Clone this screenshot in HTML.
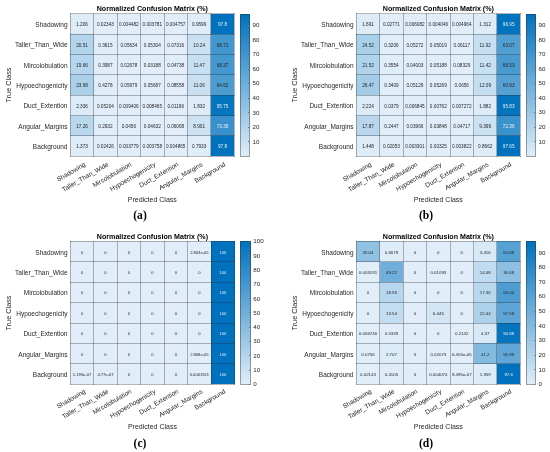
<!DOCTYPE html>
<html><head><meta charset="utf-8"><style>
html,body{margin:0;padding:0;background:#fff;}
body{width:550px;height:452px;position:relative;overflow:hidden;will-change:transform;font-family:"Liberation Sans",sans-serif;color:#262626;}
.a{position:absolute;white-space:nowrap;}
.cell{position:absolute;box-sizing:border-box;text-align:center;font-size:4.9px;}
.rl{position:absolute;width:80px;text-align:right;font-size:6.5px;line-height:8px;}
.cl{position:absolute;width:80px;text-align:right;font-size:6.5px;line-height:8px;transform-origin:100% 50%;transform:rotate(-30deg);}
.tt{position:absolute;font-weight:bold;font-size:7.1px;line-height:8px;text-align:center;width:160px;color:#000;}
.xl{position:absolute;font-size:7px;line-height:8px;text-align:center;width:100px;}
.yl{position:absolute;font-size:7.3px;line-height:8px;text-align:center;width:60px;transform:rotate(-90deg);}
.lt{position:absolute;font-family:"Liberation Serif",serif;font-weight:bold;font-size:11.6px;line-height:12px;width:40px;text-align:center;color:#000;}
.tk{position:absolute;font-size:6.2px;line-height:6px;}
</style></head><body>

<div class="cell" style="left:70.30px;top:13.90px;width:23.43px;height:20.33px;line-height:18.03px;padding-top:2.3px;font-size:4.70px;background:rgb(222,236,248);color:#262626">1.206</div>
<div class="cell" style="left:93.73px;top:13.90px;width:23.43px;height:20.33px;line-height:18.03px;padding-top:2.3px;font-size:4.70px;background:rgb(225,238,249);color:#262626">0.02343</div>
<div class="cell" style="left:117.16px;top:13.90px;width:23.43px;height:20.33px;line-height:18.03px;padding-top:2.3px;font-size:4.70px;background:rgb(225,238,249);color:#262626">0.004482</div>
<div class="cell" style="left:140.59px;top:13.90px;width:23.43px;height:20.33px;line-height:18.03px;padding-top:2.3px;font-size:4.70px;background:rgb(225,238,249);color:#262626">0.003781</div>
<div class="cell" style="left:164.01px;top:13.90px;width:23.43px;height:20.33px;line-height:18.03px;padding-top:2.3px;font-size:4.70px;background:rgb(225,238,249);color:#262626">0.004757</div>
<div class="cell" style="left:187.44px;top:13.90px;width:23.43px;height:20.33px;line-height:18.03px;padding-top:2.3px;font-size:4.70px;background:rgb(223,237,248);color:#262626">0.9599</div>
<div class="cell" style="left:210.87px;top:13.90px;width:23.43px;height:20.33px;line-height:18.03px;padding-top:2.3px;font-size:4.70px;background:rgb(0,114,189);color:rgba(255,255,255,0.88)">97.8</div>
<div class="cell" style="left:70.30px;top:34.23px;width:23.43px;height:20.33px;line-height:18.03px;padding-top:2.3px;font-size:4.70px;background:rgb(178,212,236);color:#262626">20.51</div>
<div class="cell" style="left:93.73px;top:34.23px;width:23.43px;height:20.33px;line-height:18.03px;padding-top:2.3px;font-size:4.70px;background:rgb(224,238,249);color:#262626">0.3615</div>
<div class="cell" style="left:117.16px;top:34.23px;width:23.43px;height:20.33px;line-height:18.03px;padding-top:2.3px;font-size:4.70px;background:rgb(225,238,249);color:#262626">0.05634</div>
<div class="cell" style="left:140.59px;top:34.23px;width:23.43px;height:20.33px;line-height:18.03px;padding-top:2.3px;font-size:4.70px;background:rgb(225,238,249);color:#262626">0.05304</div>
<div class="cell" style="left:164.01px;top:34.23px;width:23.43px;height:20.33px;line-height:18.03px;padding-top:2.3px;font-size:4.70px;background:rgb(225,238,249);color:#262626">0.07316</div>
<div class="cell" style="left:187.44px;top:34.23px;width:23.43px;height:20.33px;line-height:18.03px;padding-top:2.3px;font-size:4.70px;background:rgb(201,225,243);color:#262626">10.24</div>
<div class="cell" style="left:210.87px;top:34.23px;width:23.43px;height:20.33px;line-height:18.03px;padding-top:2.3px;font-size:4.70px;background:rgb(67,151,207);color:#262626">68.71</div>
<div class="cell" style="left:70.30px;top:54.56px;width:23.43px;height:20.33px;line-height:18.03px;padding-top:2.3px;font-size:4.70px;background:rgb(180,213,237);color:#262626">19.66</div>
<div class="cell" style="left:93.73px;top:54.56px;width:23.43px;height:20.33px;line-height:18.03px;padding-top:2.3px;font-size:4.70px;background:rgb(224,237,249);color:#262626">0.3987</div>
<div class="cell" style="left:117.16px;top:54.56px;width:23.43px;height:20.33px;line-height:18.03px;padding-top:2.3px;font-size:4.70px;background:rgb(225,238,249);color:#262626">0.02678</div>
<div class="cell" style="left:140.59px;top:54.56px;width:23.43px;height:20.33px;line-height:18.03px;padding-top:2.3px;font-size:4.70px;background:rgb(225,238,249);color:#262626">0.03188</div>
<div class="cell" style="left:164.01px;top:54.56px;width:23.43px;height:20.33px;line-height:18.03px;padding-top:2.3px;font-size:4.70px;background:rgb(225,238,249);color:#262626">0.04738</div>
<div class="cell" style="left:187.44px;top:54.56px;width:23.43px;height:20.33px;line-height:18.03px;padding-top:2.3px;font-size:4.70px;background:rgb(199,223,242);color:#262626">11.47</div>
<div class="cell" style="left:210.87px;top:54.56px;width:23.43px;height:20.33px;line-height:18.03px;padding-top:2.3px;font-size:4.70px;background:rgb(68,151,207);color:#262626">68.37</div>
<div class="cell" style="left:70.30px;top:74.89px;width:23.43px;height:20.33px;line-height:18.03px;padding-top:2.3px;font-size:4.70px;background:rgb(171,208,234);color:#262626">23.68</div>
<div class="cell" style="left:93.73px;top:74.89px;width:23.43px;height:20.33px;line-height:18.03px;padding-top:2.3px;font-size:4.70px;background:rgb(224,237,249);color:#262626">0.4278</div>
<div class="cell" style="left:117.16px;top:74.89px;width:23.43px;height:20.33px;line-height:18.03px;padding-top:2.3px;font-size:4.70px;background:rgb(225,238,249);color:#262626">0.05979</div>
<div class="cell" style="left:140.59px;top:74.89px;width:23.43px;height:20.33px;line-height:18.03px;padding-top:2.3px;font-size:4.70px;background:rgb(225,238,249);color:#262626">0.05687</div>
<div class="cell" style="left:164.01px;top:74.89px;width:23.43px;height:20.33px;line-height:18.03px;padding-top:2.3px;font-size:4.70px;background:rgb(225,238,249);color:#262626">0.08558</div>
<div class="cell" style="left:187.44px;top:74.89px;width:23.43px;height:20.33px;line-height:18.03px;padding-top:2.3px;font-size:4.70px;background:rgb(200,224,242);color:#262626">11.06</div>
<div class="cell" style="left:210.87px;top:74.89px;width:23.43px;height:20.33px;line-height:18.03px;padding-top:2.3px;font-size:4.70px;background:rgb(76,156,209);color:#262626">64.62</div>
<div class="cell" style="left:70.30px;top:95.21px;width:23.43px;height:20.33px;line-height:18.03px;padding-top:2.3px;font-size:4.70px;background:rgb(220,235,248);color:#262626">2.336</div>
<div class="cell" style="left:93.73px;top:95.21px;width:23.43px;height:20.33px;line-height:18.03px;padding-top:2.3px;font-size:4.70px;background:rgb(225,238,249);color:#262626">0.05204</div>
<div class="cell" style="left:117.16px;top:95.21px;width:23.43px;height:20.33px;line-height:18.03px;padding-top:2.3px;font-size:4.70px;background:rgb(225,238,249);color:#262626">0.009406</div>
<div class="cell" style="left:140.59px;top:95.21px;width:23.43px;height:20.33px;line-height:18.03px;padding-top:2.3px;font-size:4.70px;background:rgb(225,238,249);color:#262626">0.008465</div>
<div class="cell" style="left:164.01px;top:95.21px;width:23.43px;height:20.33px;line-height:18.03px;padding-top:2.3px;font-size:4.70px;background:rgb(225,238,249);color:#262626">0.01196</div>
<div class="cell" style="left:187.44px;top:95.21px;width:23.43px;height:20.33px;line-height:18.03px;padding-top:2.3px;font-size:4.70px;background:rgb(221,236,248);color:#262626">1.832</div>
<div class="cell" style="left:210.87px;top:95.21px;width:23.43px;height:20.33px;line-height:18.03px;padding-top:2.3px;font-size:4.70px;background:rgb(5,117,190);color:rgba(255,255,255,0.88)">95.75</div>
<div class="cell" style="left:70.30px;top:115.54px;width:23.43px;height:20.33px;line-height:18.03px;padding-top:2.3px;font-size:4.70px;background:rgb(185,216,238);color:#262626">17.26</div>
<div class="cell" style="left:93.73px;top:115.54px;width:23.43px;height:20.33px;line-height:18.03px;padding-top:2.3px;font-size:4.70px;background:rgb(224,238,249);color:#262626">0.2932</div>
<div class="cell" style="left:117.16px;top:115.54px;width:23.43px;height:20.33px;line-height:18.03px;padding-top:2.3px;font-size:4.70px;background:rgb(225,238,249);color:#262626">0.0456</div>
<div class="cell" style="left:140.59px;top:115.54px;width:23.43px;height:20.33px;line-height:18.03px;padding-top:2.3px;font-size:4.70px;background:rgb(225,238,249);color:#262626">0.04632</div>
<div class="cell" style="left:164.01px;top:115.54px;width:23.43px;height:20.33px;line-height:18.03px;padding-top:2.3px;font-size:4.70px;background:rgb(225,238,249);color:#262626">0.06068</div>
<div class="cell" style="left:187.44px;top:115.54px;width:23.43px;height:20.33px;line-height:18.03px;padding-top:2.3px;font-size:4.70px;background:rgb(205,227,244);color:#262626">8.901</div>
<div class="cell" style="left:210.87px;top:115.54px;width:23.43px;height:20.33px;line-height:18.03px;padding-top:2.3px;font-size:4.70px;background:rgb(56,145,204);color:rgba(255,255,255,0.88)">73.39</div>
<div class="cell" style="left:70.30px;top:135.87px;width:23.43px;height:20.33px;line-height:18.03px;padding-top:2.3px;font-size:4.70px;background:rgb(222,236,248);color:#262626">1.373</div>
<div class="cell" style="left:93.73px;top:135.87px;width:23.43px;height:20.33px;line-height:18.03px;padding-top:2.3px;font-size:4.70px;background:rgb(225,238,249);color:#262626">0.02426</div>
<div class="cell" style="left:117.16px;top:135.87px;width:23.43px;height:20.33px;line-height:18.03px;padding-top:2.3px;font-size:4.70px;background:rgb(225,238,249);color:#262626">0.003779</div>
<div class="cell" style="left:140.59px;top:135.87px;width:23.43px;height:20.33px;line-height:18.03px;padding-top:2.3px;font-size:4.70px;background:rgb(225,238,249);color:#262626">0.003758</div>
<div class="cell" style="left:164.01px;top:135.87px;width:23.43px;height:20.33px;line-height:18.03px;padding-top:2.3px;font-size:4.70px;background:rgb(225,238,249);color:#262626">0.004865</div>
<div class="cell" style="left:187.44px;top:135.87px;width:23.43px;height:20.33px;line-height:18.03px;padding-top:2.3px;font-size:4.70px;background:rgb(223,237,249);color:#262626">0.7933</div>
<div class="cell" style="left:210.87px;top:135.87px;width:23.43px;height:20.33px;line-height:18.03px;padding-top:2.3px;font-size:4.70px;background:rgb(0,114,189);color:rgba(255,255,255,0.88)">97.8</div>
<div class="a" style="left:69.80px;top:13.40px;width:1px;height:143.30px;background:rgba(40,40,40,0.34)"></div>
<div class="a" style="left:93.23px;top:13.40px;width:1px;height:143.30px;background:rgba(40,40,40,0.34)"></div>
<div class="a" style="left:116.66px;top:13.40px;width:1px;height:143.30px;background:rgba(40,40,40,0.34)"></div>
<div class="a" style="left:140.09px;top:13.40px;width:1px;height:143.30px;background:rgba(40,40,40,0.34)"></div>
<div class="a" style="left:163.51px;top:13.40px;width:1px;height:143.30px;background:rgba(40,40,40,0.34)"></div>
<div class="a" style="left:186.94px;top:13.40px;width:1px;height:143.30px;background:rgba(40,40,40,0.34)"></div>
<div class="a" style="left:210.37px;top:13.40px;width:1px;height:143.30px;background:rgba(40,40,40,0.34)"></div>
<div class="a" style="left:233.80px;top:13.40px;width:1px;height:143.30px;background:rgba(40,40,40,0.34)"></div>
<div class="a" style="left:69.80px;top:13.40px;width:165.00px;height:1px;background:rgba(40,40,40,0.34)"></div>
<div class="a" style="left:69.80px;top:33.73px;width:165.00px;height:1px;background:rgba(40,40,40,0.34)"></div>
<div class="a" style="left:69.80px;top:54.06px;width:165.00px;height:1px;background:rgba(40,40,40,0.34)"></div>
<div class="a" style="left:69.80px;top:74.39px;width:165.00px;height:1px;background:rgba(40,40,40,0.34)"></div>
<div class="a" style="left:69.80px;top:94.71px;width:165.00px;height:1px;background:rgba(40,40,40,0.34)"></div>
<div class="a" style="left:69.80px;top:115.04px;width:165.00px;height:1px;background:rgba(40,40,40,0.34)"></div>
<div class="a" style="left:69.80px;top:135.37px;width:165.00px;height:1px;background:rgba(40,40,40,0.34)"></div>
<div class="a" style="left:69.80px;top:155.70px;width:165.00px;height:1px;background:rgba(40,40,40,0.34)"></div>
<div class="rl" style="left:-12.50px;top:21.06px">Shadowing</div>
<div class="rl" style="left:-12.50px;top:41.39px">Taller_Than_Wide</div>
<div class="rl" style="left:-12.50px;top:61.72px">Mircolobulation</div>
<div class="rl" style="left:-12.50px;top:82.05px">Hypoechogenicity</div>
<div class="rl" style="left:-12.50px;top:102.38px">Duct_Extention</div>
<div class="rl" style="left:-12.50px;top:122.71px">Angular_Margins</div>
<div class="rl" style="left:-12.50px;top:143.04px">Background</div>
<div class="cl" style="left:4.51px;top:159.70px">Shadowing</div>
<div class="cl" style="left:27.94px;top:159.70px">Taller_Than_Wide</div>
<div class="cl" style="left:51.37px;top:159.70px">Mircolobulation</div>
<div class="cl" style="left:74.80px;top:159.70px">Hypoechogenicity</div>
<div class="cl" style="left:98.23px;top:159.70px">Duct_Extention</div>
<div class="cl" style="left:121.66px;top:159.70px">Angular_Margins</div>
<div class="cl" style="left:145.09px;top:159.70px">Background</div>
<div class="tt" style="left:72.30px;top:5.00px">Normalized Confusion Matrix (%)</div>
<div class="xl" style="left:102.30px;top:195.80px">Predicted Class</div>
<div class="yl" style="left:-21.50px;top:81.05px">True Class</div>
<div class="lt" style="left:120.00px;top:210.20px">(a)</div>
<div class="a" style="left:239.90px;top:13.90px;width:10.10px;height:142.90px;background:linear-gradient(to bottom,rgb(0,114,189) 0%,rgb(22,126,195) 10%,rgb(45,139,201) 20%,rgb(68,151,207) 30%,rgb(90,164,213) 40%,rgb(112,176,219) 50%,rgb(135,188,225) 60%,rgb(158,201,231) 70%,rgb(180,213,237) 80%,rgb(202,226,243) 90%,rgb(225,238,249) 100%);background-origin:border-box;box-sizing:border-box;border:1px solid rgba(40,40,40,0.4)"></div>
<div class="a" style="left:248.00px;top:141.25px;width:1.2px;height:0.8px;background:#777"></div>
<div class="tk" style="left:252.60px;top:138.65px">10</div>
<div class="a" style="left:248.00px;top:126.70px;width:1.2px;height:0.8px;background:#777"></div>
<div class="tk" style="left:252.60px;top:124.10px">20</div>
<div class="a" style="left:248.00px;top:112.15px;width:1.2px;height:0.8px;background:#777"></div>
<div class="tk" style="left:252.60px;top:109.55px">30</div>
<div class="a" style="left:248.00px;top:97.60px;width:1.2px;height:0.8px;background:#777"></div>
<div class="tk" style="left:252.60px;top:95.00px">40</div>
<div class="a" style="left:248.00px;top:83.05px;width:1.2px;height:0.8px;background:#777"></div>
<div class="tk" style="left:252.60px;top:80.45px">50</div>
<div class="a" style="left:248.00px;top:68.50px;width:1.2px;height:0.8px;background:#777"></div>
<div class="tk" style="left:252.60px;top:65.90px">60</div>
<div class="a" style="left:248.00px;top:53.95px;width:1.2px;height:0.8px;background:#777"></div>
<div class="tk" style="left:252.60px;top:51.35px">70</div>
<div class="a" style="left:248.00px;top:39.40px;width:1.2px;height:0.8px;background:#777"></div>
<div class="tk" style="left:252.60px;top:36.80px">80</div>
<div class="a" style="left:248.00px;top:24.85px;width:1.2px;height:0.8px;background:#777"></div>
<div class="tk" style="left:252.60px;top:22.25px">90</div>
<div class="cell" style="left:356.30px;top:13.90px;width:23.44px;height:20.33px;line-height:18.03px;padding-top:2.3px;font-size:4.70px;background:rgb(221,236,248);color:#262626">1.691</div>
<div class="cell" style="left:379.74px;top:13.90px;width:23.44px;height:20.33px;line-height:18.03px;padding-top:2.3px;font-size:4.70px;background:rgb(225,238,249);color:#262626">0.02771</div>
<div class="cell" style="left:403.19px;top:13.90px;width:23.44px;height:20.33px;line-height:18.03px;padding-top:2.3px;font-size:4.70px;background:rgb(225,238,249);color:#262626">0.006082</div>
<div class="cell" style="left:426.63px;top:13.90px;width:23.44px;height:20.33px;line-height:18.03px;padding-top:2.3px;font-size:4.70px;background:rgb(225,238,249);color:#262626">0.004046</div>
<div class="cell" style="left:450.07px;top:13.90px;width:23.44px;height:20.33px;line-height:18.03px;padding-top:2.3px;font-size:4.70px;background:rgb(225,238,249);color:#262626">0.004964</div>
<div class="cell" style="left:473.51px;top:13.90px;width:23.44px;height:20.33px;line-height:18.03px;padding-top:2.3px;font-size:4.70px;background:rgb(222,236,248);color:#262626">1.312</div>
<div class="cell" style="left:496.96px;top:13.90px;width:23.44px;height:20.33px;line-height:18.03px;padding-top:2.3px;font-size:4.70px;background:rgb(2,115,189);color:rgba(255,255,255,0.88)">96.95</div>
<div class="cell" style="left:356.30px;top:34.23px;width:23.44px;height:20.33px;line-height:18.03px;padding-top:2.3px;font-size:4.70px;background:rgb(169,207,234);color:#262626">24.52</div>
<div class="cell" style="left:379.74px;top:34.23px;width:23.44px;height:20.33px;line-height:18.03px;padding-top:2.3px;font-size:4.70px;background:rgb(224,238,249);color:#262626">0.3206</div>
<div class="cell" style="left:403.19px;top:34.23px;width:23.44px;height:20.33px;line-height:18.03px;padding-top:2.3px;font-size:4.70px;background:rgb(225,238,249);color:#262626">0.05272</div>
<div class="cell" style="left:426.63px;top:34.23px;width:23.44px;height:20.33px;line-height:18.03px;padding-top:2.3px;font-size:4.70px;background:rgb(225,238,249);color:#262626">0.05019</div>
<div class="cell" style="left:450.07px;top:34.23px;width:23.44px;height:20.33px;line-height:18.03px;padding-top:2.3px;font-size:4.70px;background:rgb(225,238,249);color:#262626">0.06117</div>
<div class="cell" style="left:473.51px;top:34.23px;width:23.44px;height:20.33px;line-height:18.03px;padding-top:2.3px;font-size:4.70px;background:rgb(198,223,242);color:#262626">11.92</div>
<div class="cell" style="left:496.96px;top:34.23px;width:23.44px;height:20.33px;line-height:18.03px;padding-top:2.3px;font-size:4.70px;background:rgb(80,158,210);color:#262626">63.07</div>
<div class="cell" style="left:356.30px;top:54.56px;width:23.44px;height:20.33px;line-height:18.03px;padding-top:2.3px;font-size:4.70px;background:rgb(175,211,236);color:#262626">21.52</div>
<div class="cell" style="left:379.74px;top:54.56px;width:23.44px;height:20.33px;line-height:18.03px;padding-top:2.3px;font-size:4.70px;background:rgb(224,238,249);color:#262626">0.3554</div>
<div class="cell" style="left:403.19px;top:54.56px;width:23.44px;height:20.33px;line-height:18.03px;padding-top:2.3px;font-size:4.70px;background:rgb(225,238,249);color:#262626">0.04003</div>
<div class="cell" style="left:426.63px;top:54.56px;width:23.44px;height:20.33px;line-height:18.03px;padding-top:2.3px;font-size:4.70px;background:rgb(225,238,249);color:#262626">0.05188</div>
<div class="cell" style="left:450.07px;top:54.56px;width:23.44px;height:20.33px;line-height:18.03px;padding-top:2.3px;font-size:4.70px;background:rgb(225,238,249);color:#262626">0.08329</div>
<div class="cell" style="left:473.51px;top:54.56px;width:23.44px;height:20.33px;line-height:18.03px;padding-top:2.3px;font-size:4.70px;background:rgb(199,224,242);color:#262626">11.42</div>
<div class="cell" style="left:496.96px;top:54.56px;width:23.44px;height:20.33px;line-height:18.03px;padding-top:2.3px;font-size:4.70px;background:rgb(72,154,208);color:#262626">66.53</div>
<div class="cell" style="left:356.30px;top:74.89px;width:23.44px;height:20.33px;line-height:18.03px;padding-top:2.3px;font-size:4.70px;background:rgb(164,204,233);color:#262626">26.47</div>
<div class="cell" style="left:379.74px;top:74.89px;width:23.44px;height:20.33px;line-height:18.03px;padding-top:2.3px;font-size:4.70px;background:rgb(224,238,249);color:#262626">0.3409</div>
<div class="cell" style="left:403.19px;top:74.89px;width:23.44px;height:20.33px;line-height:18.03px;padding-top:2.3px;font-size:4.70px;background:rgb(225,238,249);color:#262626">0.05129</div>
<div class="cell" style="left:426.63px;top:74.89px;width:23.44px;height:20.33px;line-height:18.03px;padding-top:2.3px;font-size:4.70px;background:rgb(225,238,249);color:#262626">0.05269</div>
<div class="cell" style="left:450.07px;top:74.89px;width:23.44px;height:20.33px;line-height:18.03px;padding-top:2.3px;font-size:4.70px;background:rgb(225,238,249);color:#262626">0.0656</div>
<div class="cell" style="left:473.51px;top:74.89px;width:23.44px;height:20.33px;line-height:18.03px;padding-top:2.3px;font-size:4.70px;background:rgb(197,223,242);color:#262626">12.09</div>
<div class="cell" style="left:496.96px;top:74.89px;width:23.44px;height:20.33px;line-height:18.03px;padding-top:2.3px;font-size:4.70px;background:rgb(85,161,212);color:#262626">60.93</div>
<div class="cell" style="left:356.30px;top:95.21px;width:23.44px;height:20.33px;line-height:18.03px;padding-top:2.3px;font-size:4.70px;background:rgb(220,235,248);color:#262626">2.224</div>
<div class="cell" style="left:379.74px;top:95.21px;width:23.44px;height:20.33px;line-height:18.03px;padding-top:2.3px;font-size:4.70px;background:rgb(225,238,249);color:#262626">0.0379</div>
<div class="cell" style="left:403.19px;top:95.21px;width:23.44px;height:20.33px;line-height:18.03px;padding-top:2.3px;font-size:4.70px;background:rgb(225,238,249);color:#262626">0.006845</div>
<div class="cell" style="left:426.63px;top:95.21px;width:23.44px;height:20.33px;line-height:18.03px;padding-top:2.3px;font-size:4.70px;background:rgb(225,238,249);color:#262626">0.00762</div>
<div class="cell" style="left:450.07px;top:95.21px;width:23.44px;height:20.33px;line-height:18.03px;padding-top:2.3px;font-size:4.70px;background:rgb(225,238,249);color:#262626">0.007272</div>
<div class="cell" style="left:473.51px;top:95.21px;width:23.44px;height:20.33px;line-height:18.03px;padding-top:2.3px;font-size:4.70px;background:rgb(221,236,248);color:#262626">1.882</div>
<div class="cell" style="left:496.96px;top:95.21px;width:23.44px;height:20.33px;line-height:18.03px;padding-top:2.3px;font-size:4.70px;background:rgb(4,116,190);color:rgba(255,255,255,0.88)">95.83</div>
<div class="cell" style="left:356.30px;top:115.54px;width:23.44px;height:20.33px;line-height:18.03px;padding-top:2.3px;font-size:4.70px;background:rgb(184,215,238);color:#262626">17.87</div>
<div class="cell" style="left:379.74px;top:115.54px;width:23.44px;height:20.33px;line-height:18.03px;padding-top:2.3px;font-size:4.70px;background:rgb(224,238,249);color:#262626">0.2447</div>
<div class="cell" style="left:403.19px;top:115.54px;width:23.44px;height:20.33px;line-height:18.03px;padding-top:2.3px;font-size:4.70px;background:rgb(225,238,249);color:#262626">0.03966</div>
<div class="cell" style="left:426.63px;top:115.54px;width:23.44px;height:20.33px;line-height:18.03px;padding-top:2.3px;font-size:4.70px;background:rgb(225,238,249);color:#262626">0.03848</div>
<div class="cell" style="left:450.07px;top:115.54px;width:23.44px;height:20.33px;line-height:18.03px;padding-top:2.3px;font-size:4.70px;background:rgb(225,238,249);color:#262626">0.04717</div>
<div class="cell" style="left:473.51px;top:115.54px;width:23.44px;height:20.33px;line-height:18.03px;padding-top:2.3px;font-size:4.70px;background:rgb(203,226,243);color:#262626">9.399</div>
<div class="cell" style="left:496.96px;top:115.54px;width:23.44px;height:20.33px;line-height:18.03px;padding-top:2.3px;font-size:4.70px;background:rgb(58,146,205);color:rgba(255,255,255,0.88)">72.36</div>
<div class="cell" style="left:356.30px;top:135.87px;width:23.44px;height:20.33px;line-height:18.03px;padding-top:2.3px;font-size:4.70px;background:rgb(222,236,248);color:#262626">1.448</div>
<div class="cell" style="left:379.74px;top:135.87px;width:23.44px;height:20.33px;line-height:18.03px;padding-top:2.3px;font-size:4.70px;background:rgb(225,238,249);color:#262626">0.02053</div>
<div class="cell" style="left:403.19px;top:135.87px;width:23.44px;height:20.33px;line-height:18.03px;padding-top:2.3px;font-size:4.70px;background:rgb(225,238,249);color:#262626">0.003301</div>
<div class="cell" style="left:426.63px;top:135.87px;width:23.44px;height:20.33px;line-height:18.03px;padding-top:2.3px;font-size:4.70px;background:rgb(225,238,249);color:#262626">0.00325</div>
<div class="cell" style="left:450.07px;top:135.87px;width:23.44px;height:20.33px;line-height:18.03px;padding-top:2.3px;font-size:4.70px;background:rgb(225,238,249);color:#262626">0.003822</div>
<div class="cell" style="left:473.51px;top:135.87px;width:23.44px;height:20.33px;line-height:18.03px;padding-top:2.3px;font-size:4.70px;background:rgb(223,237,248);color:#262626">0.8662</div>
<div class="cell" style="left:496.96px;top:135.87px;width:23.44px;height:20.33px;line-height:18.03px;padding-top:2.3px;font-size:4.70px;background:rgb(0,114,189);color:rgba(255,255,255,0.88)">97.65</div>
<div class="a" style="left:355.80px;top:13.40px;width:1px;height:143.30px;background:rgba(40,40,40,0.34)"></div>
<div class="a" style="left:379.24px;top:13.40px;width:1px;height:143.30px;background:rgba(40,40,40,0.34)"></div>
<div class="a" style="left:402.69px;top:13.40px;width:1px;height:143.30px;background:rgba(40,40,40,0.34)"></div>
<div class="a" style="left:426.13px;top:13.40px;width:1px;height:143.30px;background:rgba(40,40,40,0.34)"></div>
<div class="a" style="left:449.57px;top:13.40px;width:1px;height:143.30px;background:rgba(40,40,40,0.34)"></div>
<div class="a" style="left:473.01px;top:13.40px;width:1px;height:143.30px;background:rgba(40,40,40,0.34)"></div>
<div class="a" style="left:496.46px;top:13.40px;width:1px;height:143.30px;background:rgba(40,40,40,0.34)"></div>
<div class="a" style="left:519.90px;top:13.40px;width:1px;height:143.30px;background:rgba(40,40,40,0.34)"></div>
<div class="a" style="left:355.80px;top:13.40px;width:165.10px;height:1px;background:rgba(40,40,40,0.34)"></div>
<div class="a" style="left:355.80px;top:33.73px;width:165.10px;height:1px;background:rgba(40,40,40,0.34)"></div>
<div class="a" style="left:355.80px;top:54.06px;width:165.10px;height:1px;background:rgba(40,40,40,0.34)"></div>
<div class="a" style="left:355.80px;top:74.39px;width:165.10px;height:1px;background:rgba(40,40,40,0.34)"></div>
<div class="a" style="left:355.80px;top:94.71px;width:165.10px;height:1px;background:rgba(40,40,40,0.34)"></div>
<div class="a" style="left:355.80px;top:115.04px;width:165.10px;height:1px;background:rgba(40,40,40,0.34)"></div>
<div class="a" style="left:355.80px;top:135.37px;width:165.10px;height:1px;background:rgba(40,40,40,0.34)"></div>
<div class="a" style="left:355.80px;top:155.70px;width:165.10px;height:1px;background:rgba(40,40,40,0.34)"></div>
<div class="rl" style="left:273.50px;top:21.06px">Shadowing</div>
<div class="rl" style="left:273.50px;top:41.39px">Taller_Than_Wide</div>
<div class="rl" style="left:273.50px;top:61.72px">Mircolobulation</div>
<div class="rl" style="left:273.50px;top:82.05px">Hypoechogenicity</div>
<div class="rl" style="left:273.50px;top:102.38px">Duct_Extention</div>
<div class="rl" style="left:273.50px;top:122.71px">Angular_Margins</div>
<div class="rl" style="left:273.50px;top:143.04px">Background</div>
<div class="cl" style="left:290.52px;top:159.70px">Shadowing</div>
<div class="cl" style="left:313.96px;top:159.70px">Taller_Than_Wide</div>
<div class="cl" style="left:337.41px;top:159.70px">Mircolobulation</div>
<div class="cl" style="left:360.85px;top:159.70px">Hypoechogenicity</div>
<div class="cl" style="left:384.29px;top:159.70px">Duct_Extention</div>
<div class="cl" style="left:407.74px;top:159.70px">Angular_Margins</div>
<div class="cl" style="left:431.18px;top:159.70px">Background</div>
<div class="tt" style="left:358.35px;top:5.00px">Normalized Confusion Matrix (%)</div>
<div class="xl" style="left:388.35px;top:195.80px">Predicted Class</div>
<div class="yl" style="left:264.50px;top:81.05px">True Class</div>
<div class="lt" style="left:406.00px;top:210.20px">(b)</div>
<div class="a" style="left:526.00px;top:13.90px;width:10.00px;height:142.90px;background:linear-gradient(to bottom,rgb(0,114,189) 0%,rgb(22,126,195) 10%,rgb(45,139,201) 20%,rgb(68,151,207) 30%,rgb(90,164,213) 40%,rgb(112,176,219) 50%,rgb(135,188,225) 60%,rgb(158,201,231) 70%,rgb(180,213,237) 80%,rgb(202,226,243) 90%,rgb(225,238,249) 100%);background-origin:border-box;box-sizing:border-box;border:1px solid rgba(40,40,40,0.4)"></div>
<div class="a" style="left:534.00px;top:141.23px;width:1.2px;height:0.8px;background:#777"></div>
<div class="tk" style="left:538.60px;top:138.63px">10</div>
<div class="a" style="left:534.00px;top:126.66px;width:1.2px;height:0.8px;background:#777"></div>
<div class="tk" style="left:538.60px;top:124.06px">20</div>
<div class="a" style="left:534.00px;top:112.09px;width:1.2px;height:0.8px;background:#777"></div>
<div class="tk" style="left:538.60px;top:109.49px">30</div>
<div class="a" style="left:534.00px;top:97.51px;width:1.2px;height:0.8px;background:#777"></div>
<div class="tk" style="left:538.60px;top:94.91px">40</div>
<div class="a" style="left:534.00px;top:82.94px;width:1.2px;height:0.8px;background:#777"></div>
<div class="tk" style="left:538.60px;top:80.34px">50</div>
<div class="a" style="left:534.00px;top:68.37px;width:1.2px;height:0.8px;background:#777"></div>
<div class="tk" style="left:538.60px;top:65.77px">60</div>
<div class="a" style="left:534.00px;top:53.79px;width:1.2px;height:0.8px;background:#777"></div>
<div class="tk" style="left:538.60px;top:51.19px">70</div>
<div class="a" style="left:534.00px;top:39.22px;width:1.2px;height:0.8px;background:#777"></div>
<div class="tk" style="left:538.60px;top:36.62px">80</div>
<div class="a" style="left:534.00px;top:24.65px;width:1.2px;height:0.8px;background:#777"></div>
<div class="tk" style="left:538.60px;top:22.05px">90</div>
<div class="cell" style="left:70.30px;top:241.40px;width:23.47px;height:20.40px;line-height:18.10px;padding-top:2.3px;font-size:4.10px;background:rgb(225,238,249);color:#262626">0</div>
<div class="cell" style="left:93.77px;top:241.40px;width:23.47px;height:20.40px;line-height:18.10px;padding-top:2.3px;font-size:4.10px;background:rgb(225,238,249);color:#262626">0</div>
<div class="cell" style="left:117.24px;top:241.40px;width:23.47px;height:20.40px;line-height:18.10px;padding-top:2.3px;font-size:4.10px;background:rgb(225,238,249);color:#262626">0</div>
<div class="cell" style="left:140.71px;top:241.40px;width:23.47px;height:20.40px;line-height:18.10px;padding-top:2.3px;font-size:4.10px;background:rgb(225,238,249);color:#262626">0</div>
<div class="cell" style="left:164.19px;top:241.40px;width:23.47px;height:20.40px;line-height:18.10px;padding-top:2.3px;font-size:4.10px;background:rgb(225,238,249);color:#262626">0</div>
<div class="cell" style="left:187.66px;top:241.40px;width:23.47px;height:20.40px;line-height:18.10px;padding-top:2.3px;font-size:4.10px;background:rgb(225,238,249);color:#262626">2.803e-05</div>
<div class="cell" style="left:211.13px;top:241.40px;width:23.47px;height:20.40px;line-height:18.10px;padding-top:2.3px;font-size:4.10px;background:rgb(0,114,189);color:rgba(255,255,255,0.88)">100</div>
<div class="cell" style="left:70.30px;top:261.80px;width:23.47px;height:20.40px;line-height:18.10px;padding-top:2.3px;font-size:4.10px;background:rgb(225,238,249);color:#262626">0</div>
<div class="cell" style="left:93.77px;top:261.80px;width:23.47px;height:20.40px;line-height:18.10px;padding-top:2.3px;font-size:4.10px;background:rgb(225,238,249);color:#262626">0</div>
<div class="cell" style="left:117.24px;top:261.80px;width:23.47px;height:20.40px;line-height:18.10px;padding-top:2.3px;font-size:4.10px;background:rgb(225,238,249);color:#262626">0</div>
<div class="cell" style="left:140.71px;top:261.80px;width:23.47px;height:20.40px;line-height:18.10px;padding-top:2.3px;font-size:4.10px;background:rgb(225,238,249);color:#262626">0</div>
<div class="cell" style="left:164.19px;top:261.80px;width:23.47px;height:20.40px;line-height:18.10px;padding-top:2.3px;font-size:4.10px;background:rgb(225,238,249);color:#262626">0</div>
<div class="cell" style="left:187.66px;top:261.80px;width:23.47px;height:20.40px;line-height:18.10px;padding-top:2.3px;font-size:4.10px;background:rgb(225,238,249);color:#262626">0</div>
<div class="cell" style="left:211.13px;top:261.80px;width:23.47px;height:20.40px;line-height:18.10px;padding-top:2.3px;font-size:4.10px;background:rgb(0,114,189);color:rgba(255,255,255,0.88)">100</div>
<div class="cell" style="left:70.30px;top:282.20px;width:23.47px;height:20.40px;line-height:18.10px;padding-top:2.3px;font-size:4.10px;background:rgb(225,238,249);color:#262626">0</div>
<div class="cell" style="left:93.77px;top:282.20px;width:23.47px;height:20.40px;line-height:18.10px;padding-top:2.3px;font-size:4.10px;background:rgb(225,238,249);color:#262626">0</div>
<div class="cell" style="left:117.24px;top:282.20px;width:23.47px;height:20.40px;line-height:18.10px;padding-top:2.3px;font-size:4.10px;background:rgb(225,238,249);color:#262626">0</div>
<div class="cell" style="left:140.71px;top:282.20px;width:23.47px;height:20.40px;line-height:18.10px;padding-top:2.3px;font-size:4.10px;background:rgb(225,238,249);color:#262626">0</div>
<div class="cell" style="left:164.19px;top:282.20px;width:23.47px;height:20.40px;line-height:18.10px;padding-top:2.3px;font-size:4.10px;background:rgb(225,238,249);color:#262626">0</div>
<div class="cell" style="left:187.66px;top:282.20px;width:23.47px;height:20.40px;line-height:18.10px;padding-top:2.3px;font-size:4.10px;background:rgb(225,238,249);color:#262626">0</div>
<div class="cell" style="left:211.13px;top:282.20px;width:23.47px;height:20.40px;line-height:18.10px;padding-top:2.3px;font-size:4.10px;background:rgb(0,114,189);color:rgba(255,255,255,0.88)">100</div>
<div class="cell" style="left:70.30px;top:302.60px;width:23.47px;height:20.40px;line-height:18.10px;padding-top:2.3px;font-size:4.10px;background:rgb(225,238,249);color:#262626">0</div>
<div class="cell" style="left:93.77px;top:302.60px;width:23.47px;height:20.40px;line-height:18.10px;padding-top:2.3px;font-size:4.10px;background:rgb(225,238,249);color:#262626">0</div>
<div class="cell" style="left:117.24px;top:302.60px;width:23.47px;height:20.40px;line-height:18.10px;padding-top:2.3px;font-size:4.10px;background:rgb(225,238,249);color:#262626">0</div>
<div class="cell" style="left:140.71px;top:302.60px;width:23.47px;height:20.40px;line-height:18.10px;padding-top:2.3px;font-size:4.10px;background:rgb(225,238,249);color:#262626">0</div>
<div class="cell" style="left:164.19px;top:302.60px;width:23.47px;height:20.40px;line-height:18.10px;padding-top:2.3px;font-size:4.10px;background:rgb(225,238,249);color:#262626">0</div>
<div class="cell" style="left:187.66px;top:302.60px;width:23.47px;height:20.40px;line-height:18.10px;padding-top:2.3px;font-size:4.10px;background:rgb(225,238,249);color:#262626">0</div>
<div class="cell" style="left:211.13px;top:302.60px;width:23.47px;height:20.40px;line-height:18.10px;padding-top:2.3px;font-size:4.10px;background:rgb(0,114,189);color:rgba(255,255,255,0.88)">100</div>
<div class="cell" style="left:70.30px;top:323.00px;width:23.47px;height:20.40px;line-height:18.10px;padding-top:2.3px;font-size:4.10px;background:rgb(225,238,249);color:#262626">0</div>
<div class="cell" style="left:93.77px;top:323.00px;width:23.47px;height:20.40px;line-height:18.10px;padding-top:2.3px;font-size:4.10px;background:rgb(225,238,249);color:#262626">0</div>
<div class="cell" style="left:117.24px;top:323.00px;width:23.47px;height:20.40px;line-height:18.10px;padding-top:2.3px;font-size:4.10px;background:rgb(225,238,249);color:#262626">0</div>
<div class="cell" style="left:140.71px;top:323.00px;width:23.47px;height:20.40px;line-height:18.10px;padding-top:2.3px;font-size:4.10px;background:rgb(225,238,249);color:#262626">0</div>
<div class="cell" style="left:164.19px;top:323.00px;width:23.47px;height:20.40px;line-height:18.10px;padding-top:2.3px;font-size:4.10px;background:rgb(225,238,249);color:#262626">0</div>
<div class="cell" style="left:187.66px;top:323.00px;width:23.47px;height:20.40px;line-height:18.10px;padding-top:2.3px;font-size:4.10px;background:rgb(225,238,249);color:#262626">0</div>
<div class="cell" style="left:211.13px;top:323.00px;width:23.47px;height:20.40px;line-height:18.10px;padding-top:2.3px;font-size:4.10px;background:rgb(0,114,189);color:rgba(255,255,255,0.88)">100</div>
<div class="cell" style="left:70.30px;top:343.40px;width:23.47px;height:20.40px;line-height:18.10px;padding-top:2.3px;font-size:4.10px;background:rgb(225,238,249);color:#262626">0</div>
<div class="cell" style="left:93.77px;top:343.40px;width:23.47px;height:20.40px;line-height:18.10px;padding-top:2.3px;font-size:4.10px;background:rgb(225,238,249);color:#262626">0</div>
<div class="cell" style="left:117.24px;top:343.40px;width:23.47px;height:20.40px;line-height:18.10px;padding-top:2.3px;font-size:4.10px;background:rgb(225,238,249);color:#262626">0</div>
<div class="cell" style="left:140.71px;top:343.40px;width:23.47px;height:20.40px;line-height:18.10px;padding-top:2.3px;font-size:4.10px;background:rgb(225,238,249);color:#262626">0</div>
<div class="cell" style="left:164.19px;top:343.40px;width:23.47px;height:20.40px;line-height:18.10px;padding-top:2.3px;font-size:4.10px;background:rgb(225,238,249);color:#262626">0</div>
<div class="cell" style="left:187.66px;top:343.40px;width:23.47px;height:20.40px;line-height:18.10px;padding-top:2.3px;font-size:4.10px;background:rgb(225,238,249);color:#262626">2.868e-05</div>
<div class="cell" style="left:211.13px;top:343.40px;width:23.47px;height:20.40px;line-height:18.10px;padding-top:2.3px;font-size:4.10px;background:rgb(0,114,189);color:rgba(255,255,255,0.88)">100</div>
<div class="cell" style="left:70.30px;top:363.80px;width:23.47px;height:20.40px;line-height:18.10px;padding-top:2.3px;font-size:4.10px;background:rgb(225,238,249);color:#262626">1.193e-07</div>
<div class="cell" style="left:93.77px;top:363.80px;width:23.47px;height:20.40px;line-height:18.10px;padding-top:2.3px;font-size:4.10px;background:rgb(225,238,249);color:#262626">4.77e-07</div>
<div class="cell" style="left:117.24px;top:363.80px;width:23.47px;height:20.40px;line-height:18.10px;padding-top:2.3px;font-size:4.10px;background:rgb(225,238,249);color:#262626">0</div>
<div class="cell" style="left:140.71px;top:363.80px;width:23.47px;height:20.40px;line-height:18.10px;padding-top:2.3px;font-size:4.10px;background:rgb(225,238,249);color:#262626">0</div>
<div class="cell" style="left:164.19px;top:363.80px;width:23.47px;height:20.40px;line-height:18.10px;padding-top:2.3px;font-size:4.10px;background:rgb(225,238,249);color:#262626">0</div>
<div class="cell" style="left:187.66px;top:363.80px;width:23.47px;height:20.40px;line-height:18.10px;padding-top:2.3px;font-size:4.10px;background:rgb(225,238,249);color:#262626">0.0001921</div>
<div class="cell" style="left:211.13px;top:363.80px;width:23.47px;height:20.40px;line-height:18.10px;padding-top:2.3px;font-size:4.10px;background:rgb(0,114,189);color:rgba(255,255,255,0.88)">100</div>
<div class="a" style="left:69.80px;top:240.90px;width:1px;height:143.80px;background:rgba(40,40,40,0.34)"></div>
<div class="a" style="left:93.27px;top:240.90px;width:1px;height:143.80px;background:rgba(40,40,40,0.34)"></div>
<div class="a" style="left:116.74px;top:240.90px;width:1px;height:143.80px;background:rgba(40,40,40,0.34)"></div>
<div class="a" style="left:140.21px;top:240.90px;width:1px;height:143.80px;background:rgba(40,40,40,0.34)"></div>
<div class="a" style="left:163.69px;top:240.90px;width:1px;height:143.80px;background:rgba(40,40,40,0.34)"></div>
<div class="a" style="left:187.16px;top:240.90px;width:1px;height:143.80px;background:rgba(40,40,40,0.34)"></div>
<div class="a" style="left:210.63px;top:240.90px;width:1px;height:143.80px;background:rgba(40,40,40,0.34)"></div>
<div class="a" style="left:234.10px;top:240.90px;width:1px;height:143.80px;background:rgba(40,40,40,0.34)"></div>
<div class="a" style="left:69.80px;top:240.90px;width:165.30px;height:1px;background:rgba(40,40,40,0.34)"></div>
<div class="a" style="left:69.80px;top:261.30px;width:165.30px;height:1px;background:rgba(40,40,40,0.34)"></div>
<div class="a" style="left:69.80px;top:281.70px;width:165.30px;height:1px;background:rgba(40,40,40,0.34)"></div>
<div class="a" style="left:69.80px;top:302.10px;width:165.30px;height:1px;background:rgba(40,40,40,0.34)"></div>
<div class="a" style="left:69.80px;top:322.50px;width:165.30px;height:1px;background:rgba(40,40,40,0.34)"></div>
<div class="a" style="left:69.80px;top:342.90px;width:165.30px;height:1px;background:rgba(40,40,40,0.34)"></div>
<div class="a" style="left:69.80px;top:363.30px;width:165.30px;height:1px;background:rgba(40,40,40,0.34)"></div>
<div class="a" style="left:69.80px;top:383.70px;width:165.30px;height:1px;background:rgba(40,40,40,0.34)"></div>
<div class="rl" style="left:-12.50px;top:248.60px">Shadowing</div>
<div class="rl" style="left:-12.50px;top:269.00px">Taller_Than_Wide</div>
<div class="rl" style="left:-12.50px;top:289.40px">Mircolobulation</div>
<div class="rl" style="left:-12.50px;top:309.80px">Hypoechogenicity</div>
<div class="rl" style="left:-12.50px;top:330.20px">Duct_Extention</div>
<div class="rl" style="left:-12.50px;top:350.60px">Angular_Margins</div>
<div class="rl" style="left:-12.50px;top:371.00px">Background</div>
<div class="cl" style="left:4.54px;top:387.10px">Shadowing</div>
<div class="cl" style="left:28.01px;top:387.10px">Taller_Than_Wide</div>
<div class="cl" style="left:51.48px;top:387.10px">Mircolobulation</div>
<div class="cl" style="left:74.95px;top:387.10px">Hypoechogenicity</div>
<div class="cl" style="left:98.42px;top:387.10px">Duct_Extention</div>
<div class="cl" style="left:121.89px;top:387.10px">Angular_Margins</div>
<div class="cl" style="left:145.36px;top:387.10px">Background</div>
<div class="tt" style="left:72.45px;top:232.50px">Normalized Confusion Matrix (%)</div>
<div class="xl" style="left:102.45px;top:422.90px">Predicted Class</div>
<div class="yl" style="left:-21.50px;top:308.80px">True Class</div>
<div class="lt" style="left:120.00px;top:438.20px">(c)</div>
<div class="a" style="left:240.40px;top:241.40px;width:10.30px;height:143.40px;background:linear-gradient(to bottom,rgb(0,114,189) 0%,rgb(22,126,195) 10%,rgb(45,139,201) 20%,rgb(68,151,207) 30%,rgb(90,164,213) 40%,rgb(112,176,219) 50%,rgb(135,188,225) 60%,rgb(158,201,231) 70%,rgb(180,213,237) 80%,rgb(202,226,243) 90%,rgb(225,238,249) 100%);background-origin:border-box;box-sizing:border-box;border:1px solid rgba(40,40,40,0.4)"></div>
<div class="a" style="left:248.70px;top:383.80px;width:1.2px;height:0.8px;background:#777"></div>
<div class="tk" style="left:253.30px;top:381.20px">0</div>
<div class="a" style="left:248.70px;top:369.52px;width:1.2px;height:0.8px;background:#777"></div>
<div class="tk" style="left:253.30px;top:366.92px">10</div>
<div class="a" style="left:248.70px;top:355.24px;width:1.2px;height:0.8px;background:#777"></div>
<div class="tk" style="left:253.30px;top:352.64px">20</div>
<div class="a" style="left:248.70px;top:340.96px;width:1.2px;height:0.8px;background:#777"></div>
<div class="tk" style="left:253.30px;top:338.36px">30</div>
<div class="a" style="left:248.70px;top:326.68px;width:1.2px;height:0.8px;background:#777"></div>
<div class="tk" style="left:253.30px;top:324.08px">40</div>
<div class="a" style="left:248.70px;top:312.40px;width:1.2px;height:0.8px;background:#777"></div>
<div class="tk" style="left:253.30px;top:309.80px">50</div>
<div class="a" style="left:248.70px;top:298.12px;width:1.2px;height:0.8px;background:#777"></div>
<div class="tk" style="left:253.30px;top:295.52px">60</div>
<div class="a" style="left:248.70px;top:283.84px;width:1.2px;height:0.8px;background:#777"></div>
<div class="tk" style="left:253.30px;top:281.24px">70</div>
<div class="a" style="left:248.70px;top:269.56px;width:1.2px;height:0.8px;background:#777"></div>
<div class="tk" style="left:253.30px;top:266.96px">80</div>
<div class="a" style="left:248.70px;top:255.28px;width:1.2px;height:0.8px;background:#777"></div>
<div class="tk" style="left:253.30px;top:252.68px">90</div>
<div class="a" style="left:248.70px;top:241.00px;width:1.2px;height:0.8px;background:#777"></div>
<div class="tk" style="left:253.30px;top:238.40px">100</div>
<div class="cell" style="left:356.30px;top:241.40px;width:23.44px;height:20.40px;line-height:18.10px;padding-top:2.3px;font-size:4.40px;background:rgb(144,193,227);color:#262626">35.04</div>
<div class="cell" style="left:379.74px;top:241.40px;width:23.44px;height:20.40px;line-height:18.10px;padding-top:2.3px;font-size:4.40px;background:rgb(223,237,249);color:#262626">0.6679</div>
<div class="cell" style="left:403.19px;top:241.40px;width:23.44px;height:20.40px;line-height:18.10px;padding-top:2.3px;font-size:4.40px;background:rgb(225,238,249);color:#262626">0</div>
<div class="cell" style="left:426.63px;top:241.40px;width:23.44px;height:20.40px;line-height:18.10px;padding-top:2.3px;font-size:4.40px;background:rgb(225,238,249);color:#262626">0</div>
<div class="cell" style="left:450.07px;top:241.40px;width:23.44px;height:20.40px;line-height:18.10px;padding-top:2.3px;font-size:4.40px;background:rgb(225,238,249);color:#262626">0</div>
<div class="cell" style="left:473.51px;top:241.40px;width:23.44px;height:20.40px;line-height:18.10px;padding-top:2.3px;font-size:4.40px;background:rgb(217,234,247);color:#262626">3.416</div>
<div class="cell" style="left:496.96px;top:241.40px;width:23.44px;height:20.40px;line-height:18.10px;padding-top:2.3px;font-size:4.40px;background:rgb(85,161,212);color:#262626">60.88</div>
<div class="cell" style="left:356.30px;top:261.80px;width:23.44px;height:20.40px;line-height:18.10px;padding-top:2.3px;font-size:4.40px;background:rgb(225,238,249);color:#262626">0.003191</div>
<div class="cell" style="left:379.74px;top:261.80px;width:23.44px;height:20.40px;line-height:18.10px;padding-top:2.3px;font-size:4.40px;background:rgb(112,175,219);color:#262626">49.22</div>
<div class="cell" style="left:403.19px;top:261.80px;width:23.44px;height:20.40px;line-height:18.10px;padding-top:2.3px;font-size:4.40px;background:rgb(225,238,249);color:#262626">0</div>
<div class="cell" style="left:426.63px;top:261.80px;width:23.44px;height:20.40px;line-height:18.10px;padding-top:2.3px;font-size:4.40px;background:rgb(225,238,249);color:#262626">0.01093</div>
<div class="cell" style="left:450.07px;top:261.80px;width:23.44px;height:20.40px;line-height:18.10px;padding-top:2.3px;font-size:4.40px;background:rgb(225,238,249);color:#262626">0</div>
<div class="cell" style="left:473.51px;top:261.80px;width:23.44px;height:20.40px;line-height:18.10px;padding-top:2.3px;font-size:4.40px;background:rgb(193,220,240);color:#262626">14.08</div>
<div class="cell" style="left:496.96px;top:261.80px;width:23.44px;height:20.40px;line-height:18.10px;padding-top:2.3px;font-size:4.40px;background:rgb(140,191,226);color:#262626">36.68</div>
<div class="cell" style="left:356.30px;top:282.20px;width:23.44px;height:20.40px;line-height:18.10px;padding-top:2.3px;font-size:4.40px;background:rgb(225,238,249);color:#262626">0</div>
<div class="cell" style="left:379.74px;top:282.20px;width:23.44px;height:20.40px;line-height:18.10px;padding-top:2.3px;font-size:4.40px;background:rgb(182,214,238);color:#262626">18.59</div>
<div class="cell" style="left:403.19px;top:282.20px;width:23.44px;height:20.40px;line-height:18.10px;padding-top:2.3px;font-size:4.40px;background:rgb(225,238,249);color:#262626">0</div>
<div class="cell" style="left:426.63px;top:282.20px;width:23.44px;height:20.40px;line-height:18.10px;padding-top:2.3px;font-size:4.40px;background:rgb(225,238,249);color:#262626">0</div>
<div class="cell" style="left:450.07px;top:282.20px;width:23.44px;height:20.40px;line-height:18.10px;padding-top:2.3px;font-size:4.40px;background:rgb(225,238,249);color:#262626">0</div>
<div class="cell" style="left:473.51px;top:282.20px;width:23.44px;height:20.40px;line-height:18.10px;padding-top:2.3px;font-size:4.40px;background:rgb(185,216,238);color:#262626">17.36</div>
<div class="cell" style="left:496.96px;top:282.20px;width:23.44px;height:20.40px;line-height:18.10px;padding-top:2.3px;font-size:4.40px;background:rgb(77,157,210);color:#262626">64.04</div>
<div class="cell" style="left:356.30px;top:302.60px;width:23.44px;height:20.40px;line-height:18.10px;padding-top:2.3px;font-size:4.40px;background:rgb(225,238,249);color:#262626">0</div>
<div class="cell" style="left:379.74px;top:302.60px;width:23.44px;height:20.40px;line-height:18.10px;padding-top:2.3px;font-size:4.40px;background:rgb(194,221,241);color:#262626">13.54</div>
<div class="cell" style="left:403.19px;top:302.60px;width:23.44px;height:20.40px;line-height:18.10px;padding-top:2.3px;font-size:4.40px;background:rgb(225,238,249);color:#262626">0</div>
<div class="cell" style="left:426.63px;top:302.60px;width:23.44px;height:20.40px;line-height:18.10px;padding-top:2.3px;font-size:4.40px;background:rgb(210,230,245);color:#262626">6.445</div>
<div class="cell" style="left:450.07px;top:302.60px;width:23.44px;height:20.40px;line-height:18.10px;padding-top:2.3px;font-size:4.40px;background:rgb(225,238,249);color:#262626">0</div>
<div class="cell" style="left:473.51px;top:302.60px;width:23.44px;height:20.40px;line-height:18.10px;padding-top:2.3px;font-size:4.40px;background:rgb(173,209,235);color:#262626">22.44</div>
<div class="cell" style="left:496.96px;top:302.60px;width:23.44px;height:20.40px;line-height:18.10px;padding-top:2.3px;font-size:4.40px;background:rgb(92,165,214);color:#262626">57.58</div>
<div class="cell" style="left:356.30px;top:323.00px;width:23.44px;height:20.40px;line-height:18.10px;padding-top:2.3px;font-size:4.40px;background:rgb(225,238,249);color:#262626">0.006746</div>
<div class="cell" style="left:379.74px;top:323.00px;width:23.44px;height:20.40px;line-height:18.10px;padding-top:2.3px;font-size:4.40px;background:rgb(224,237,249);color:#262626">0.5339</div>
<div class="cell" style="left:403.19px;top:323.00px;width:23.44px;height:20.40px;line-height:18.10px;padding-top:2.3px;font-size:4.40px;background:rgb(225,238,249);color:#262626">0</div>
<div class="cell" style="left:426.63px;top:323.00px;width:23.44px;height:20.40px;line-height:18.10px;padding-top:2.3px;font-size:4.40px;background:rgb(225,238,249);color:#262626">0</div>
<div class="cell" style="left:450.07px;top:323.00px;width:23.44px;height:20.40px;line-height:18.10px;padding-top:2.3px;font-size:4.40px;background:rgb(225,238,249);color:#262626">0.2142</div>
<div class="cell" style="left:473.51px;top:323.00px;width:23.44px;height:20.40px;line-height:18.10px;padding-top:2.3px;font-size:4.40px;background:rgb(215,232,246);color:#262626">4.37</div>
<div class="cell" style="left:496.96px;top:323.00px;width:23.44px;height:20.40px;line-height:18.10px;padding-top:2.3px;font-size:4.40px;background:rgb(6,117,191);color:rgba(255,255,255,0.88)">94.88</div>
<div class="cell" style="left:356.30px;top:343.40px;width:23.44px;height:20.40px;line-height:18.10px;padding-top:2.3px;font-size:4.40px;background:rgb(225,238,249);color:#262626">0.0756</div>
<div class="cell" style="left:379.74px;top:343.40px;width:23.44px;height:20.40px;line-height:18.10px;padding-top:2.3px;font-size:4.40px;background:rgb(219,235,247);color:#262626">2.707</div>
<div class="cell" style="left:403.19px;top:343.40px;width:23.44px;height:20.40px;line-height:18.10px;padding-top:2.3px;font-size:4.40px;background:rgb(225,238,249);color:#262626">0</div>
<div class="cell" style="left:426.63px;top:343.40px;width:23.44px;height:20.40px;line-height:18.10px;padding-top:2.3px;font-size:4.40px;background:rgb(225,238,249);color:#262626">0.02073</div>
<div class="cell" style="left:450.07px;top:343.40px;width:23.44px;height:20.40px;line-height:18.10px;padding-top:2.3px;font-size:4.40px;background:rgb(225,238,249);color:#262626">6.405e-05</div>
<div class="cell" style="left:473.51px;top:343.40px;width:23.44px;height:20.40px;line-height:18.10px;padding-top:2.3px;font-size:4.40px;background:rgb(130,186,224);color:#262626">41.2</div>
<div class="cell" style="left:496.96px;top:343.40px;width:23.44px;height:20.40px;line-height:18.10px;padding-top:2.3px;font-size:4.40px;background:rgb(96,167,215);color:#262626">55.99</div>
<div class="cell" style="left:356.30px;top:363.80px;width:23.44px;height:20.40px;line-height:18.10px;padding-top:2.3px;font-size:4.40px;background:rgb(225,238,249);color:#262626">0.02143</div>
<div class="cell" style="left:379.74px;top:363.80px;width:23.44px;height:20.40px;line-height:18.10px;padding-top:2.3px;font-size:4.40px;background:rgb(224,237,249);color:#262626">0.4105</div>
<div class="cell" style="left:403.19px;top:363.80px;width:23.44px;height:20.40px;line-height:18.10px;padding-top:2.3px;font-size:4.40px;background:rgb(225,238,249);color:#262626">0</div>
<div class="cell" style="left:426.63px;top:363.80px;width:23.44px;height:20.40px;line-height:18.10px;padding-top:2.3px;font-size:4.40px;background:rgb(225,238,249);color:#262626">0.004074</div>
<div class="cell" style="left:450.07px;top:363.80px;width:23.44px;height:20.40px;line-height:18.10px;padding-top:2.3px;font-size:4.40px;background:rgb(225,238,249);color:#262626">9.495e-07</div>
<div class="cell" style="left:473.51px;top:363.80px;width:23.44px;height:20.40px;line-height:18.10px;padding-top:2.3px;font-size:4.40px;background:rgb(220,236,248);color:#262626">1.959</div>
<div class="cell" style="left:496.96px;top:363.80px;width:23.44px;height:20.40px;line-height:18.10px;padding-top:2.3px;font-size:4.40px;background:rgb(0,114,189);color:rgba(255,255,255,0.88)">97.6</div>
<div class="a" style="left:355.80px;top:240.90px;width:1px;height:143.80px;background:rgba(40,40,40,0.34)"></div>
<div class="a" style="left:379.24px;top:240.90px;width:1px;height:143.80px;background:rgba(40,40,40,0.34)"></div>
<div class="a" style="left:402.69px;top:240.90px;width:1px;height:143.80px;background:rgba(40,40,40,0.34)"></div>
<div class="a" style="left:426.13px;top:240.90px;width:1px;height:143.80px;background:rgba(40,40,40,0.34)"></div>
<div class="a" style="left:449.57px;top:240.90px;width:1px;height:143.80px;background:rgba(40,40,40,0.34)"></div>
<div class="a" style="left:473.01px;top:240.90px;width:1px;height:143.80px;background:rgba(40,40,40,0.34)"></div>
<div class="a" style="left:496.46px;top:240.90px;width:1px;height:143.80px;background:rgba(40,40,40,0.34)"></div>
<div class="a" style="left:519.90px;top:240.90px;width:1px;height:143.80px;background:rgba(40,40,40,0.34)"></div>
<div class="a" style="left:355.80px;top:240.90px;width:165.10px;height:1px;background:rgba(40,40,40,0.34)"></div>
<div class="a" style="left:355.80px;top:261.30px;width:165.10px;height:1px;background:rgba(40,40,40,0.34)"></div>
<div class="a" style="left:355.80px;top:281.70px;width:165.10px;height:1px;background:rgba(40,40,40,0.34)"></div>
<div class="a" style="left:355.80px;top:302.10px;width:165.10px;height:1px;background:rgba(40,40,40,0.34)"></div>
<div class="a" style="left:355.80px;top:322.50px;width:165.10px;height:1px;background:rgba(40,40,40,0.34)"></div>
<div class="a" style="left:355.80px;top:342.90px;width:165.10px;height:1px;background:rgba(40,40,40,0.34)"></div>
<div class="a" style="left:355.80px;top:363.30px;width:165.10px;height:1px;background:rgba(40,40,40,0.34)"></div>
<div class="a" style="left:355.80px;top:383.70px;width:165.10px;height:1px;background:rgba(40,40,40,0.34)"></div>
<div class="rl" style="left:273.50px;top:248.60px">Shadowing</div>
<div class="rl" style="left:273.50px;top:269.00px">Taller_Than_Wide</div>
<div class="rl" style="left:273.50px;top:289.40px">Mircolobulation</div>
<div class="rl" style="left:273.50px;top:309.80px">Hypoechogenicity</div>
<div class="rl" style="left:273.50px;top:330.20px">Duct_Extention</div>
<div class="rl" style="left:273.50px;top:350.60px">Angular_Margins</div>
<div class="rl" style="left:273.50px;top:371.00px">Background</div>
<div class="cl" style="left:290.52px;top:387.10px">Shadowing</div>
<div class="cl" style="left:313.96px;top:387.10px">Taller_Than_Wide</div>
<div class="cl" style="left:337.41px;top:387.10px">Mircolobulation</div>
<div class="cl" style="left:360.85px;top:387.10px">Hypoechogenicity</div>
<div class="cl" style="left:384.29px;top:387.10px">Duct_Extention</div>
<div class="cl" style="left:407.74px;top:387.10px">Angular_Margins</div>
<div class="cl" style="left:431.18px;top:387.10px">Background</div>
<div class="tt" style="left:358.35px;top:232.50px">Normalized Confusion Matrix (%)</div>
<div class="xl" style="left:388.35px;top:422.90px">Predicted Class</div>
<div class="yl" style="left:264.50px;top:308.80px">True Class</div>
<div class="lt" style="left:406.00px;top:438.20px">(d)</div>
<div class="a" style="left:526.00px;top:241.40px;width:10.00px;height:143.40px;background:linear-gradient(to bottom,rgb(0,114,189) 0%,rgb(22,126,195) 10%,rgb(45,139,201) 20%,rgb(68,151,207) 30%,rgb(90,164,213) 40%,rgb(112,176,219) 50%,rgb(135,188,225) 60%,rgb(158,201,231) 70%,rgb(180,213,237) 80%,rgb(202,226,243) 90%,rgb(225,238,249) 100%);background-origin:border-box;box-sizing:border-box;border:1px solid rgba(40,40,40,0.4)"></div>
<div class="a" style="left:534.00px;top:383.80px;width:1.2px;height:0.8px;background:#777"></div>
<div class="tk" style="left:538.60px;top:381.20px">0</div>
<div class="a" style="left:534.00px;top:369.17px;width:1.2px;height:0.8px;background:#777"></div>
<div class="tk" style="left:538.60px;top:366.57px">10</div>
<div class="a" style="left:534.00px;top:354.54px;width:1.2px;height:0.8px;background:#777"></div>
<div class="tk" style="left:538.60px;top:351.94px">20</div>
<div class="a" style="left:534.00px;top:339.91px;width:1.2px;height:0.8px;background:#777"></div>
<div class="tk" style="left:538.60px;top:337.31px">30</div>
<div class="a" style="left:534.00px;top:325.28px;width:1.2px;height:0.8px;background:#777"></div>
<div class="tk" style="left:538.60px;top:322.68px">40</div>
<div class="a" style="left:534.00px;top:310.64px;width:1.2px;height:0.8px;background:#777"></div>
<div class="tk" style="left:538.60px;top:308.04px">50</div>
<div class="a" style="left:534.00px;top:296.01px;width:1.2px;height:0.8px;background:#777"></div>
<div class="tk" style="left:538.60px;top:293.41px">60</div>
<div class="a" style="left:534.00px;top:281.38px;width:1.2px;height:0.8px;background:#777"></div>
<div class="tk" style="left:538.60px;top:278.78px">70</div>
<div class="a" style="left:534.00px;top:266.75px;width:1.2px;height:0.8px;background:#777"></div>
<div class="tk" style="left:538.60px;top:264.15px">80</div>
<div class="a" style="left:534.00px;top:252.12px;width:1.2px;height:0.8px;background:#777"></div>
<div class="tk" style="left:538.60px;top:249.52px">90</div>
</body></html>
